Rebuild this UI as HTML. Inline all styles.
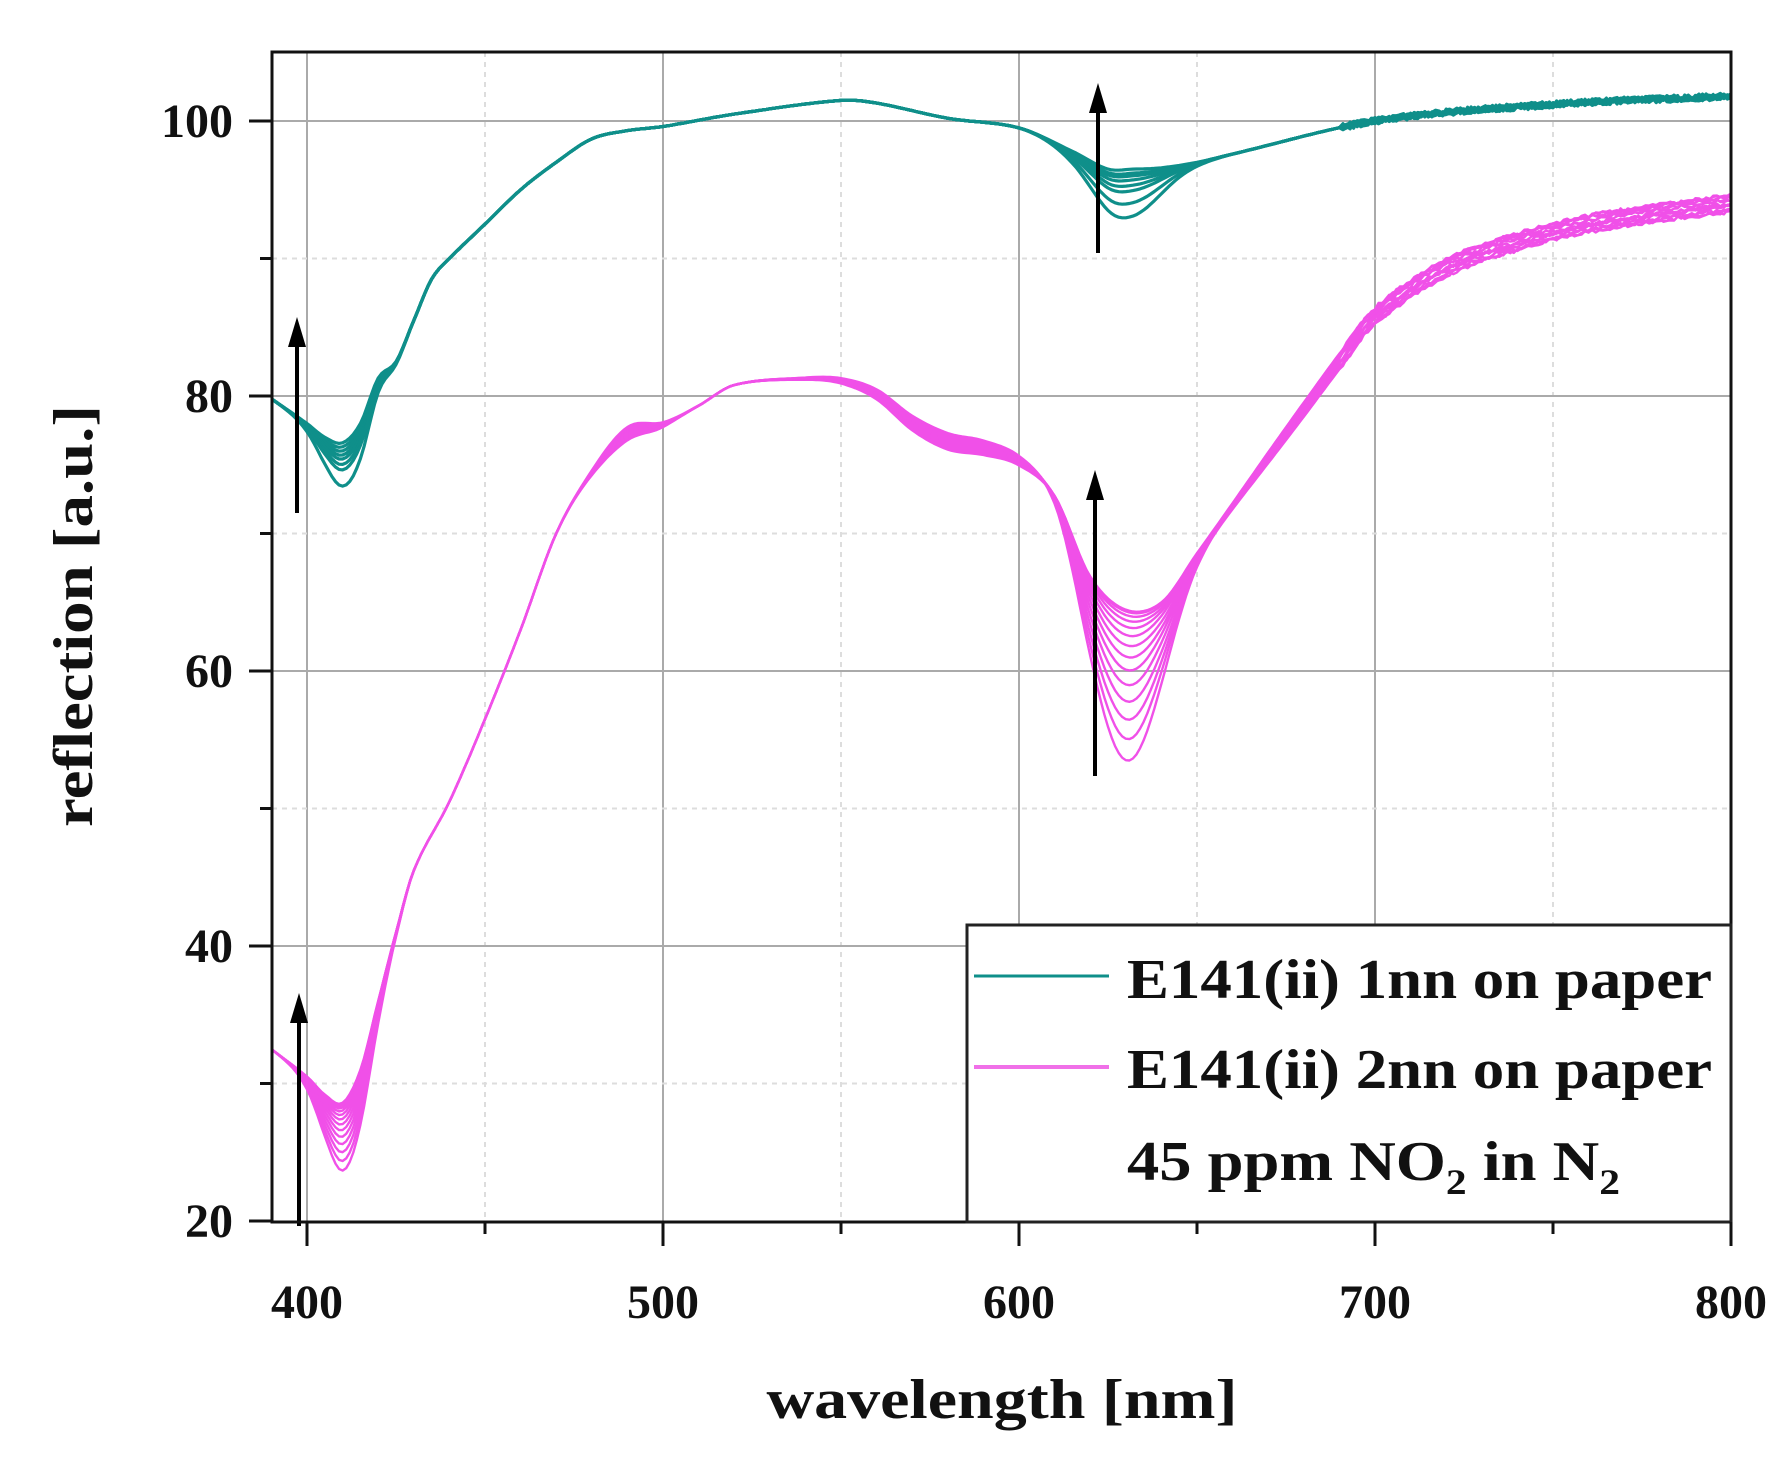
<!DOCTYPE html>
<html><head><meta charset="utf-8"><style>
html,body{margin:0;padding:0;background:#fff;}
svg{display:block;}
text{font-family:"Liberation Serif",serif;fill:#111;}
</style></head><body>
<svg id="s" width="1780" height="1464" xmlns="http://www.w3.org/2000/svg">
<rect width="1780" height="1464" fill="#fff"/>
<g id="grid"></g>
<g id="curves" fill="none" stroke-linejoin="round"></g>
<g id="ax"></g>
</svg>
<script>
const NS="http://www.w3.org/2000/svg";
function X(w){return 307+(w-400)*3.56;}
function Y(v){return 121+(100-v)*13.75;}
function el(p,t,a,txt){const e=document.createElementNS(NS,t);for(const k in a)e.setAttribute(k,a[k]);if(txt!==undefined)e.textContent=txt;p.appendChild(e);return e;}
const g=document.getElementById('grid'),c=document.getElementById('curves'),ax=document.getElementById('ax');
const L=272,R=1731,T=52,B=1222;
for(let w=400;w<=800;w+=50){const x=X(w);el(g,'line',{x1:x,x2:x,y1:T,y2:B,stroke:w%100==0?'#aaa':'#ddd','stroke-width':2,'stroke-dasharray':w%100==0?'':'5,5'});}
for(let v=30;v<=100;v+=10){const y=Y(v);el(g,'line',{x1:L,x2:R,y1:y,y2:y,stroke:v%20==0?'#aaa':'#ddd','stroke-width':2,'stroke-dasharray':v%20==0?'':'5,5'});}
function interp(p,w){
 let i=0;while(i<p.length-2&&w>p[i+1][0])i++;
 const p0=p[Math.max(i-1,0)],p1=p[i],p2=p[i+1],p3=p[Math.min(i+2,p.length-1)];
 const t=(w-p1[0])/(p2[0]-p1[0]);const h=p2[0]-p1[0];
 const m1=(p2[1]-p0[1])/(p2[0]-p0[0])*h,m2=(p3[1]-p1[1])/(p3[0]-p1[0])*h;
 const t2=t*t,t3=t2*t;
 return (2*t3-3*t2+1)*p1[1]+(t3-2*t2+t)*m1+(-2*t3+3*t2)*p2[1]+(t3-t2)*m2;}
const teal=[[390,79.8],[400,78],[405,77],[410,76.6],[415,78],[420,81.3],[425,82.5],[430,85.5],[435,88.5],[440,90],[450,92.5],[460,95],[470,97],[480,98.7],[490,99.3],[500,99.6],[520,100.5],[550,101.5],[560,101.3],[580,100.2],[600,99.5],[615,97.8],[625,96.5],[632,96.5],[640,96.6],[650,97],[660,97.6],[700,100],[750,101.2],[800,101.8]];
const pink=[[390,32.5],[400,30.5],[405,29.2],[410,28.6],[415,31],[420,36],[425,41],[430,45.5],[440,50.5],[450,56.5],[460,63],[470,70],[480,74.5],[490,77.5],[500,78],[510,79.3],[520,80.8],[540,81.3],[550,81.2],[560,80.3],[570,78.3],[580,77],[590,76.5],[600,75.5],[610,73],[620,67],[630,64.5],[640,65],[650,68.5],[660,72],[670,75.5],[680,79],[690,82.5],[700,85.8],[720,89.3],[740,91.2],[760,92.5],[780,93.3],[800,94]];
function gauss(w,m,s){return Math.exp(-((w-m)*(w-m))/(2*s*s));}
function sig(w,m,s){return 1/(1+Math.exp(-(w-m)/s));}
function path(base,k1,k2,off,spr,noise){let d='';for(let w=390;w<=800;w+=1){let v=interp(base,w)-k1*gauss(w,411,6)-k2*gauss(w,630,9)+off*(gauss(w,580,20)+0.8*gauss(w,490,7))+spr*sig(w,665,8)+(w>690?(Math.random()-0.5)*noise:0);d+=(w==390?'M':'L')+X(w).toFixed(1)+','+Y(v).toFixed(1);}return d;}
const n=14;
for(let i=0;i<n;i++){const t=i/(n-1);el(c,'path',{d:path(pink,4.5*t*t+0.5*t,10*t*t+1*t,1.2*(t-0.5)-0.3,0.6*(Math.sin(i*1.7)),0.3),stroke:'#f050e8','stroke-width':2.4});}
const tk=[[0,0],[0.3,0.3],[0.6,0.5],[0.9,0.8],[1.2,1.2],[1.6,1.6],[2.0,2.5],[3.2,3.5]];
for(const [a,b] of tk){el(c,'path',{d:path(teal,a,b,0,0,0.5),stroke:'#0f8f8a','stroke-width':3.2});}
function arrow(x,y1,y2){el(ax,'line',{x1:x,x2:x,y1:y1,y2:y2+20,stroke:'#000','stroke-width':4});el(ax,'polygon',{points:`${x-9},${y2+30} ${x+9},${y2+30} ${x},${y2}`,fill:'#000'});}
arrow(1098,253,83);arrow(1095,776,470);arrow(297,513,317);arrow(299,1226,993);
el(ax,'rect',{x:L,y:T,width:R-L,height:B-T,fill:'none',stroke:'#111','stroke-width':3});
el(ax,'rect',{x:967,y:925,width:R-967,height:B-925,fill:'#fff',stroke:'#222','stroke-width':3});
el(ax,'line',{x1:974,x2:1109,y1:976,y2:976,stroke:'#0f8f8a','stroke-width':3});
el(ax,'line',{x1:974,x2:1109,y1:1067,y2:1067,stroke:'#f070e8','stroke-width':4});
el(ax,'text',{x:1127,y:998,'font-size':56,'font-weight':'bold',textLength:585,lengthAdjust:'spacingAndGlyphs'},'E141(ii) 1nn on paper');
el(ax,'text',{x:1127,y:1088,'font-size':56,'font-weight':'bold',textLength:585,lengthAdjust:'spacingAndGlyphs'},'E141(ii) 2nn on paper');
const t3=el(ax,'text',{x:1127,y:1180,'font-size':56,'font-weight':'bold',textLength:493,lengthAdjust:'spacingAndGlyphs'});
t3.innerHTML='45 ppm NO<tspan font-size="36" dy="14">2</tspan><tspan dy="-14"> in N</tspan><tspan font-size="36" dy="14">2</tspan>';
for(let w=400;w<=800;w+=50){const x=X(w);el(ax,'line',{x1:x,x2:x,y1:B,y2:B+(w%100==0?24:12),stroke:'#111','stroke-width':3});
 if(w%100==0)el(ax,'text',{x:x,y:1318,'font-size':48,'font-weight':'bold','text-anchor':'middle'},String(w));}
for(let v=20;v<=100;v+=10){const y=Y(v);el(ax,'line',{x1:L,x2:L-(v%20==0?23:12),y1:y,y2:y,stroke:'#111','stroke-width':3});
 if(v%20==0)el(ax,'text',{x:233,y:y+16,'font-size':48,'font-weight':'bold','text-anchor':'end'},String(v));}
el(ax,'text',{x:1002,y:1418,'font-size':56,'font-weight':'bold','text-anchor':'middle',textLength:471,lengthAdjust:'spacingAndGlyphs'},'wavelength [nm]');
el(ax,'text',{x:0,y:0,'font-size':56,'font-weight':'bold','text-anchor':'middle',transform:'translate(92,616) rotate(-90)',textLength:422,lengthAdjust:'spacingAndGlyphs'},'reflection [a.u.]');
</script>
</body></html>
